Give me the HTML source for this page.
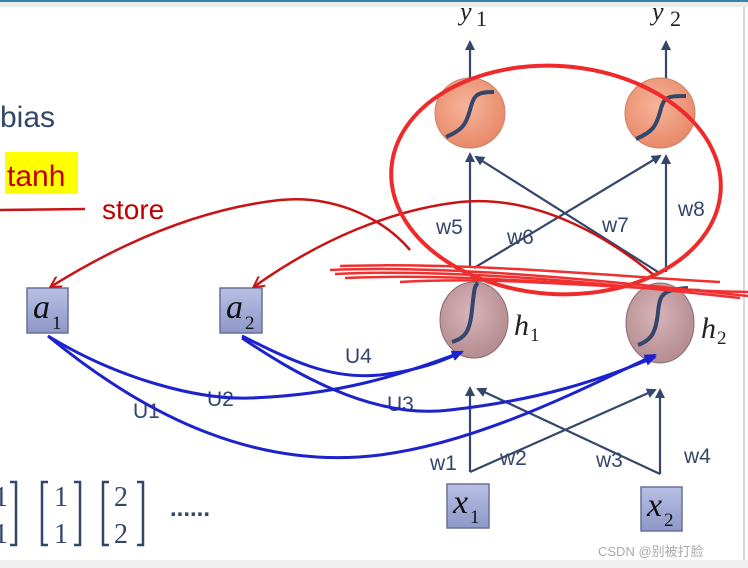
<!DOCTYPE html>
<html><head><meta charset="utf-8"><style>
html,body{margin:0;padding:0;background:#fff;}
svg{display:block;}
</style></head><body>
<svg width="748" height="568" viewBox="0 0 748 568" xmlns="http://www.w3.org/2000/svg" font-family="Liberation Sans, Noto Sans CJK SC, sans-serif">
<defs>
<marker id="ab" markerWidth="10" markerHeight="10" refX="8" refY="5" orient="auto" markerUnits="userSpaceOnUse"><path d="M0,0 L10,5 L0,10 z" fill="#34466b"/></marker>
<marker id="ar" markerWidth="12" markerHeight="12" refX="9" refY="6" orient="auto" markerUnits="userSpaceOnUse"><path d="M0,0 L11,6 L0,12" fill="none" stroke="#c81414" stroke-width="2"/></marker>
<marker id="au" markerWidth="12" markerHeight="10" refX="10" refY="5" orient="auto" markerUnits="userSpaceOnUse"><path d="M0,0 L12,5 L0,10 z" fill="#1c22cc"/></marker>
<radialGradient id="go" cx="45%" cy="40%" r="60%"><stop offset="0" stop-color="#f6b49a"/><stop offset="1" stop-color="#e88a6a"/></radialGradient>
<radialGradient id="gh" cx="45%" cy="40%" r="60%"><stop offset="0" stop-color="#d8b4b8"/><stop offset="1" stop-color="#b48c92"/></radialGradient>
<linearGradient id="gb" x1="0" y1="0" x2="0" y2="1"><stop offset="0" stop-color="#b8c0e4"/><stop offset="1" stop-color="#8e98c8"/></linearGradient>
</defs>
<rect x="0" y="0" width="748" height="2" fill="#3c7fa8"/>
<rect x="0" y="2" width="748" height="5" fill="#ececec"/>
<rect x="743" y="7" width="2" height="553" fill="#d8d8d8"/>
<rect x="0" y="560" width="748" height="8" fill="#f0f0f0"/>

<text x="0" y="127" font-size="30" fill="#34466b">bias</text>
<rect x="5" y="152" width="73" height="42" fill="#ffff00"/>
<text x="7" y="186" font-size="30" fill="#c00000">tanh</text>
<line x1="0" y1="210" x2="85" y2="209" stroke="#c81414" stroke-width="2.5"/>
<text x="102" y="219" font-size="28" fill="#c00000">store</text>

<!-- matrices -->
<g fill="#34466b" font-family="Liberation Serif, serif" font-size="28">
<text x="-6" y="506">1</text><text x="-6" y="543">1</text>
<text x="54" y="506">1</text><text x="54" y="543">1</text>
<text x="114" y="506">2</text><text x="114" y="543">2</text>
</g>
<g stroke="#34466b" stroke-width="2.5" fill="none">
<path d="M10,482 H16 V545 H10"/>
<path d="M48,482 H42 V545 H48"/><path d="M74,482 H80 V545 H74"/>
<path d="M109,482 H103 V545 H109"/><path d="M137,482 H143 V545 H137"/>
</g>
<text x="170" y="516" font-size="24" fill="#34466b" font-weight="bold">......</text>

<!-- black arrows -->
<g stroke="#34466b" stroke-width="2.2" fill="none" marker-end="url(#ab)">
<line x1="470" y1="80" x2="470" y2="42"/>
<line x1="666" y1="80" x2="666" y2="42"/>
<line x1="470" y1="268" x2="470" y2="154"/>
<line x1="474" y1="268" x2="660" y2="156"/>
<line x1="658" y1="272" x2="476" y2="157"/>
<line x1="666" y1="272" x2="666" y2="156"/>
<line x1="470" y1="472" x2="470" y2="388"/>
<line x1="470" y1="472" x2="655" y2="390"/>
<line x1="660" y1="474" x2="478" y2="389"/>
<line x1="660" y1="474" x2="660" y2="390"/>
</g>

<g font-size="21" fill="#34466b">
<text x="430" y="470">w1</text><text x="500" y="465">w2</text>
<text x="596" y="467">w3</text><text x="684" y="463">w4</text>
<text x="436" y="234">w5</text><text x="507" y="244">w6</text>
<text x="602" y="232">w7</text><text x="678" y="216">w8</text>
<text x="133" y="418">U1</text><text x="207" y="406">U2</text>
<text x="387" y="411">U3</text><text x="345" y="363">U4</text>
</g>

<!-- output neurons -->
<circle cx="470" cy="113" r="35" fill="url(#go)" stroke="#c8846a"/>
<path d="M446,137 C462,130 466,125 470,110 C474,95 476,92 494,92" stroke="#34466b" stroke-width="4" fill="none"/>
<circle cx="660" cy="113" r="35" fill="url(#go)" stroke="#c8846a"/>
<path d="M636,139 C652,132 656,127 660,112 C664,97 666,96 686,96" stroke="#34466b" stroke-width="4" fill="none"/>
<g font-family="Liberation Serif, serif" fill="#222">
<text x="460" y="20" font-style="italic" font-size="26">y</text><text x="476" y="26" font-size="22">1</text>
<text x="652" y="20" font-style="italic" font-size="26">y</text><text x="670" y="26" font-size="22">2</text>
</g>

<!-- hidden neurons -->
<ellipse cx="474" cy="320" rx="34" ry="38" fill="url(#gh)" stroke="#8a6a6e"/>
<path d="M452,342 C466,338 470,330 472,310 C474,292 474,286 478,283" stroke="#34466b" stroke-width="4" fill="none"/>
<ellipse cx="660" cy="323" rx="34" ry="40" fill="url(#gh)" stroke="#8a6a6e"/>
<path d="M638,345 C652,340 656,332 658,312 C660,294 662,290 688,288" stroke="#34466b" stroke-width="4" fill="none"/>
<g font-family="Liberation Serif, serif" fill="#222">
<text x="514" y="335" font-style="italic" font-size="30">h</text><text x="530" y="341" font-size="19">1</text>
<text x="701" y="338" font-style="italic" font-size="30">h</text><text x="717" y="344" font-size="19">2</text>
</g>

<!-- boxes -->
<g stroke="#6a709a" stroke-width="1.5" fill="url(#gb)">
<rect x="27" y="288" width="41" height="45"/>
<rect x="220" y="288" width="42" height="45"/>
<rect x="447" y="484" width="42" height="44"/>
<rect x="641" y="487" width="41" height="44"/>
</g>
<g font-family="Liberation Serif, serif" font-style="italic" font-size="34" fill="#111">
<text x="33" y="318">a</text>
<text x="226" y="318">a</text>
<text x="453" y="513">x</text>
<text x="647" y="516">x</text>
</g>
<g font-family="Liberation Serif, serif" font-size="19" fill="#111">
<text x="52" y="329">1</text><text x="245" y="329">2</text>
<text x="470" y="523">1</text><text x="664" y="526">2</text>
</g>

<!-- blue recurrent connections -->
<g stroke="#1c22cc" stroke-width="3" fill="none" marker-end="url(#au)">
<path d="M48,336 C120,380 200,400 250,398 C340,395 400,375 462,352"/>
<path d="M48,336 C150,420 260,470 380,455 C480,442 580,390 655,355"/>
<path d="M242,336 C290,360 330,380 380,375 C420,370 440,362 462,352"/>
<path d="M242,338 C290,370 370,420 450,410 C540,400 600,380 655,357"/>
</g>

<!-- red store curves -->
<g stroke="#c81414" stroke-width="2.5" fill="none" marker-end="url(#ar)">
<path d="M410,250 C380,215 330,195 280,200 C190,210 110,250 52,286"/>
<path d="M655,276 C600,230 530,195 460,202 C390,210 320,240 255,286"/>
</g>

<!-- red annotations -->
<ellipse cx="556" cy="180" rx="165" ry="114" transform="rotate(4 556 180)" fill="none" stroke="#ee2a2a" stroke-width="4"/>
<g stroke="#f03030" stroke-width="2.5" fill="none">
<path d="M330,270 C450,265 600,280 748,296"/>
<path d="M335,274 C460,268 620,285 740,298"/>
<path d="M340,266 C470,262 610,276 720,282"/>
<path d="M345,278 C480,272 620,290 748,292"/>
<path d="M400,282 C500,276 600,288 700,290"/>
</g>

<text x="598" y="556" font-size="13" fill="#aaa">CSDN @别被打脸</text>
</svg>
</body></html>
